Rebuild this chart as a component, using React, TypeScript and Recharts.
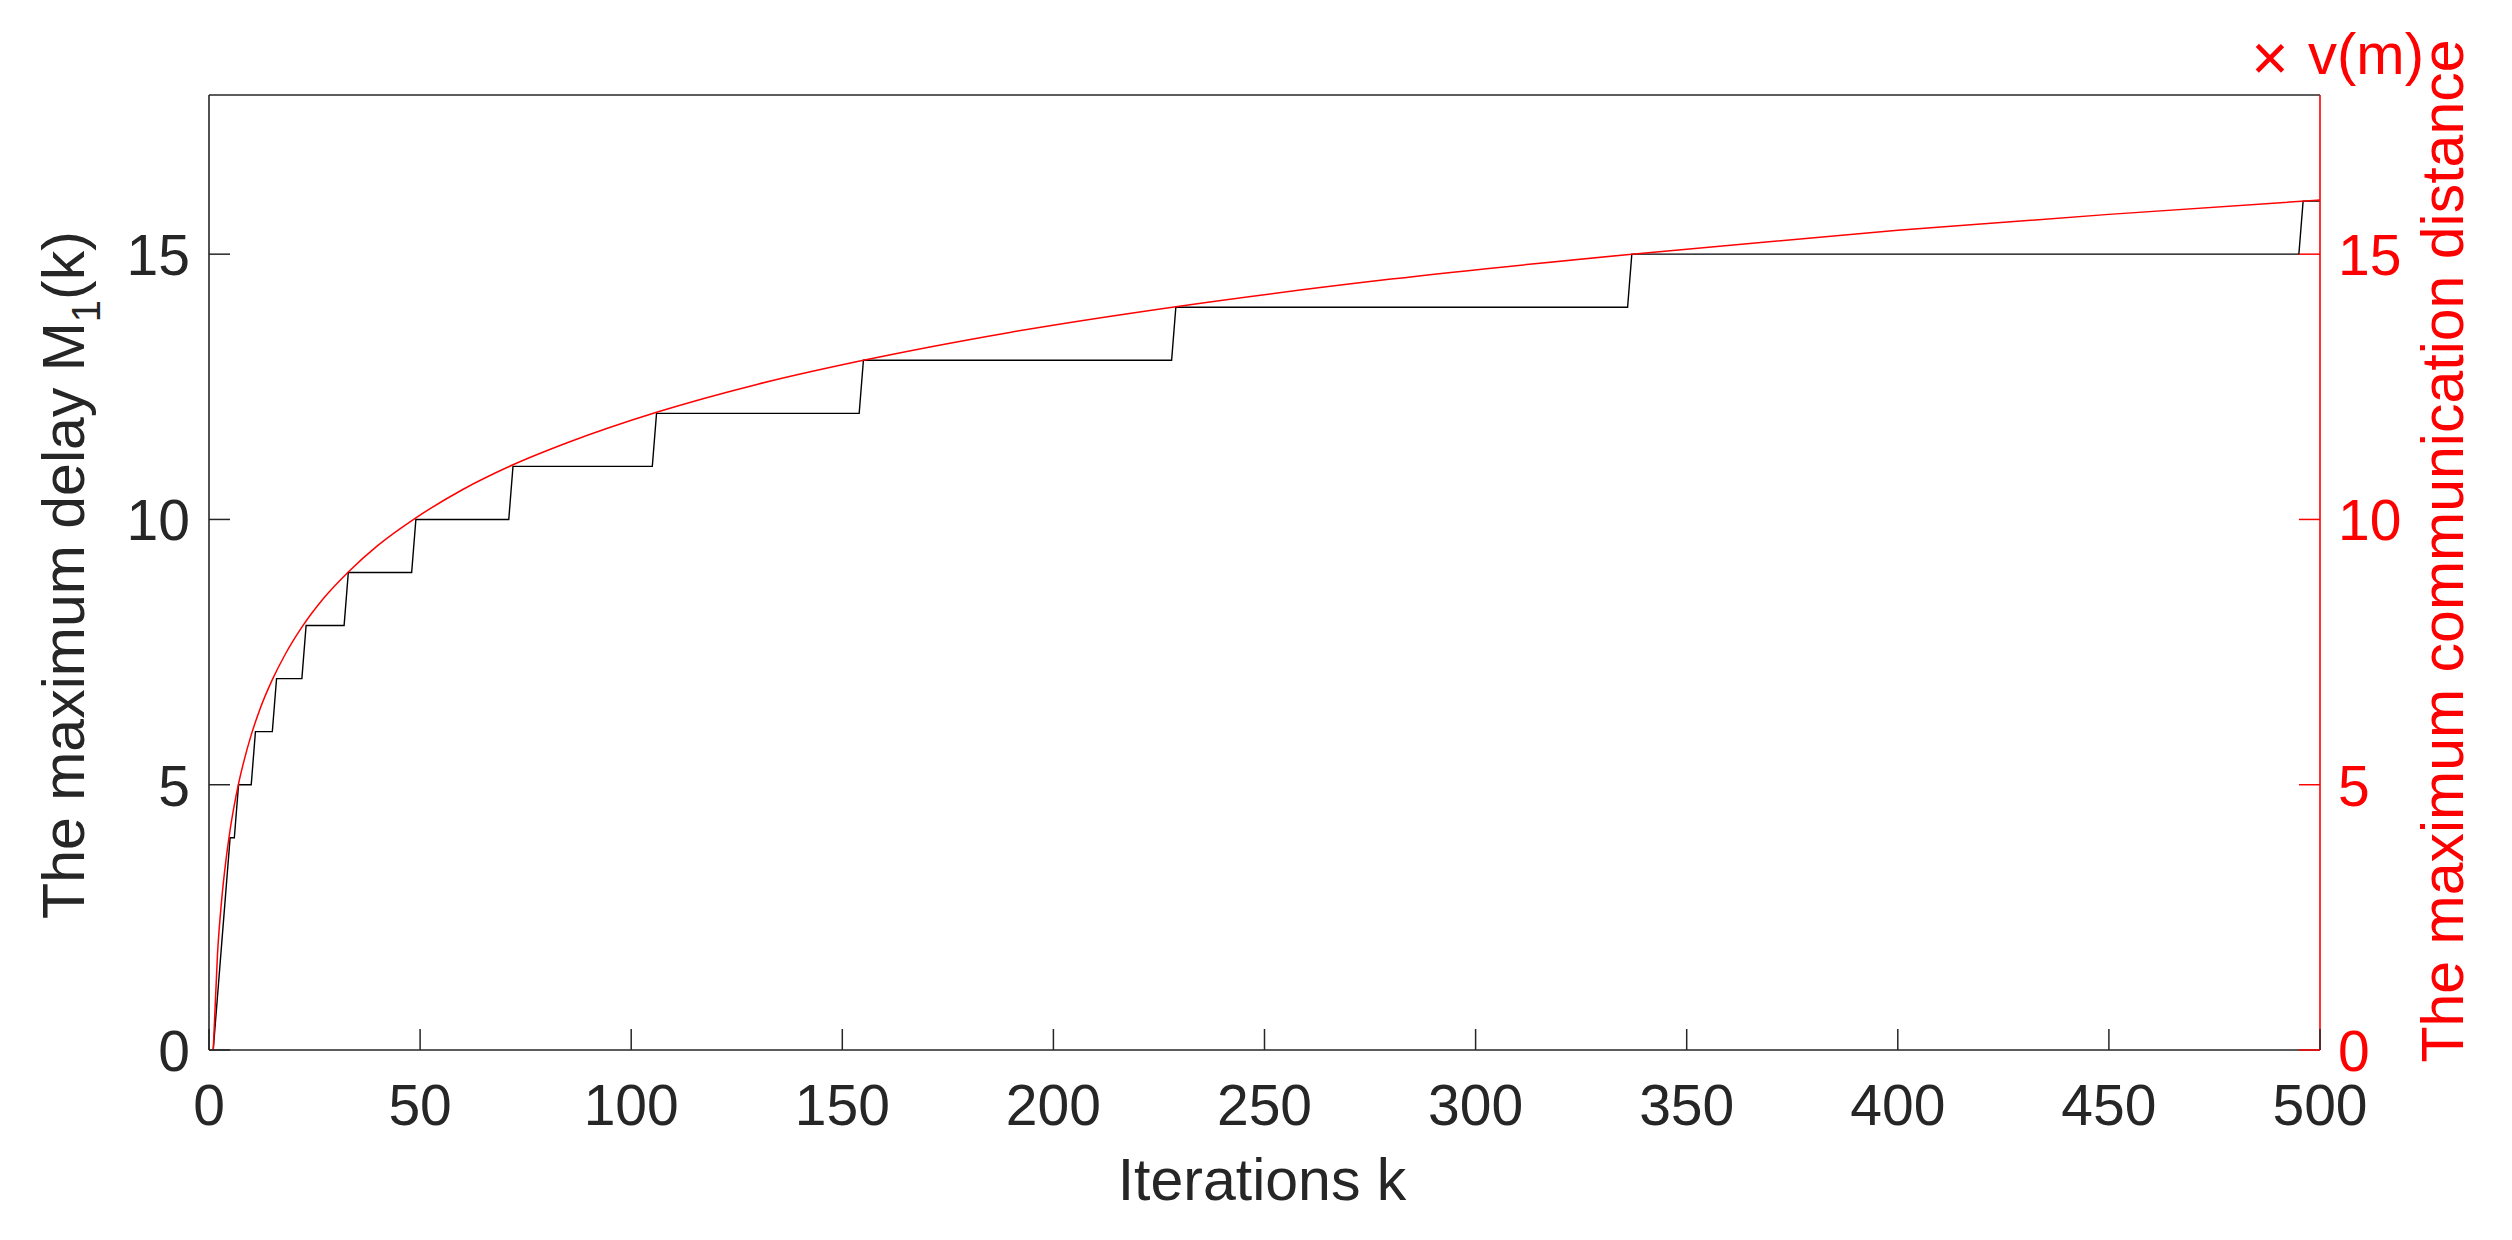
import React from "react";
import { ComposedChart, Line, XAxis, YAxis, Label } from "recharts";

// axis ticks
const kTicks = [0, 50, 100, 150, 200, 250, 300, 350, 400, 450, 500];
const delayTicks = [0, 5, 10, 15];
const distanceTicks = [0, 5, 10, 15];

// maximum delay M1(k), corner points of the staircase
const stepK = [1, 2, 3, 4, 5, 6, 7, 10, 11, 15, 16, 22, 23, 32, 33, 48, 49, 71, 72, 105, 106, 154, 155, 228, 229, 336, 337, 495, 496, 500];
const stepDelay = [0, 1, 2, 3, 4, 4, 5, 5, 6, 6, 7, 7, 8, 8, 9, 9, 10, 10, 11, 11, 12, 12, 13, 13, 14, 14, 15, 15, 16, 16];

// maximum communication distance v(m)
const curveK = [1, 2, 3, 4, 5, 6, 7, 8, 10, 12, 15, 18, 22, 27, 33, 40, 49, 60, 72, 85, 106, 130, 155, 190, 229, 280, 337, 400, 450, 500];
const curveDistance = [0, 1.79, 2.83, 3.57, 4.15, 4.62, 5.02, 5.36, 5.94, 6.41, 6.98, 7.45, 7.97, 8.5, 9.01, 9.51, 10.03, 10.56, 11.03, 11.45, 12.02, 12.55, 13.0, 13.53, 14.01, 14.53, 15.0, 15.45, 15.75, 16.02];

const delayData = stepK.map((k, i) => ({ k, delay: stepDelay[i] }));
const distanceData = curveK.map((k, i) => ({ k, distance: curveDistance[i] }));

const FONT = "'Liberation Sans', Arial, Helvetica, sans-serif";
const TEXT = "#262626";
const AXIS = "#262626";
const RED = "#ff0000";
const TICK_LEN = 21;
const TICK_FONT = 57;
const TITLE_FONT = 59;

function BottomTick(props: any) {
  const { x, y, payload } = props;
  return (
    <g>
      <line x1={x} y1={y} x2={x} y2={y - TICK_LEN} stroke={AXIS} strokeWidth={1.5} />
      <text x={x} y={y + 75} textAnchor="middle" fontSize={TICK_FONT} fill={TEXT} fontFamily={FONT}>
        {payload.value}
      </text>
    </g>
  );
}

function LeftTick(props: any) {
  const { x, y, payload } = props;
  return (
    <g>
      <line x1={x} y1={y} x2={x + TICK_LEN} y2={y} stroke={AXIS} strokeWidth={1.5} />
      <text x={x - 19} y={y + 21} textAnchor="end" fontSize={TICK_FONT} fill={TEXT} fontFamily={FONT}>
        {payload.value}
      </text>
    </g>
  );
}

function RightTick(props: any) {
  const { x, y, payload } = props;
  return (
    <g>
      <line x1={x} y1={y} x2={x - TICK_LEN} y2={y} stroke={RED} strokeWidth={1.5} />
      <text x={x + 18} y={y + 21} textAnchor="start" fontSize={TICK_FONT} fill={RED} fontFamily={FONT}>
        {payload.value}
      </text>
    </g>
  );
}

export default function App() {
  return (
    <div style={{ position: "absolute", left: 0, top: 0, width: 2512, height: 1240, background: "#fff" }}>
      <ComposedChart width={2512} height={1240} margin={{ top: 94, right: 0, bottom: 0, left: 0 }}>
        <XAxis
          dataKey="k"
          type="number"
          domain={[0, 500]}
          ticks={kTicks}
          interval={0}
          height={190}
          tickSize={0}
          tickMargin={0}
          tickLine={false}
          axisLine={{ stroke: AXIS, strokeWidth: 1.6 }}
          tick={BottomTick}
        >
          <Label
            content={() => (
              <text x={1262} y={1200} textAnchor="middle" fontSize={TITLE_FONT} fill={TEXT} fontFamily={FONT}>
                Iterations k
              </text>
            )}
          />
        </XAxis>
        <XAxis
          xAxisId="top"
          orientation="top"
          dataKey="k"
          type="number"
          domain={[0, 500]}
          height={1}
          tickLine={false}
          tick={false}
          axisLine={{ stroke: AXIS, strokeWidth: 1.6 }}
        />
        <YAxis
          yAxisId="left"
          type="number"
          domain={[0, 18]}
          ticks={delayTicks}
          interval={0}
          width={209}
          tickSize={0}
          tickMargin={0}
          tickLine={false}
          axisLine={{ stroke: AXIS, strokeWidth: 1.6 }}
          tick={LeftTick}
        >
          <Label
            content={() => (
              <text
                x={84}
                y={575}
                transform="rotate(-90, 84, 575)"
                textAnchor="middle"
                fontSize={TITLE_FONT}
                fill={TEXT}
                fontFamily={FONT}
              >
                The maximum delay M
                <tspan fontSize={40} dy={16}>1</tspan>
                <tspan dy={-16}>(k)</tspan>
              </text>
            )}
          />
        </YAxis>
        <YAxis
          yAxisId="right"
          orientation="right"
          type="number"
          domain={[0, 18]}
          ticks={distanceTicks}
          interval={0}
          width={192}
          tickSize={0}
          tickMargin={0}
          tickLine={false}
          axisLine={{ stroke: RED, strokeWidth: 1.6 }}
          tick={RightTick}
        >
          <Label
            content={() => (
              <g>
                <text
                  x={2463}
                  y={551}
                  transform="rotate(-90, 2463, 551)"
                  textAnchor="middle"
                  fontSize={TITLE_FONT}
                  fill={RED}
                  fontFamily={FONT}
                >
                  The maximum communication distance
                </text>
                <text x={2270} y={80} textAnchor="middle" fontSize={64} fill={RED} fontFamily={FONT}>
                  ×
                </text>
                <text x={2308} y={74} textAnchor="start" fontSize={58} fill={RED} fontFamily={FONT}>
                  v(m)
                </text>
              </g>
            )}
          />
        </YAxis>
        <Line
          data={delayData}
          yAxisId="left"
          dataKey="delay"
          type="linear"
          stroke="#000000"
          strokeWidth={1.4}
          dot={false}
          activeDot={false}
          isAnimationActive={false}
        />
        <Line
          data={distanceData}
          yAxisId="right"
          dataKey="distance"
          type="monotoneX"
          stroke={RED}
          strokeWidth={1.5}
          dot={false}
          activeDot={false}
          isAnimationActive={false}
        />
      </ComposedChart>
    </div>
  );
}
